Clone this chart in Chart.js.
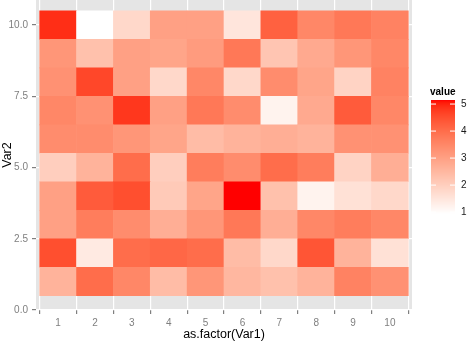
<!DOCTYPE html>
<html>
<head>
<meta charset="utf-8">
<script src="https://cdn.jsdelivr.net/npm/chart.js@4"></script>
<style>
  html, body { margin: 0; padding: 0; background: #fff; }
  #wrap { width: 474px; height: 350px; }
</style>
</head>
<body>
<div id="wrap"><canvas id="heat"></canvas></div>
<script>
const var1 = ['1', '2', '3', '4', '5', '6', '7', '8', '9', '10'];
const var2 = [1, 2, 3, 4, 5, 6, 7, 8, 9, 10];
// one row per Var2 value, columns follow var1
const value = [
  [2.6, 4.0, 3.5, 2.4, 3.2, 2.5, 2.3, 2.6, 3.6, 3.3],
  [4.5, 1.4, 4.0, 4.1, 4.0, 2.4, 1.8, 4.4, 2.6, 1.6],
  [3.0, 3.7, 3.4, 2.7, 3.2, 3.8, 2.7, 3.5, 3.7, 3.5],
  [3.0, 4.3, 4.5, 2.1, 2.9, 5.15, 2.3, 1.2, 1.6, 1.8],
  [2.0, 2.6, 4.0, 2.0, 3.7, 3.4, 4.0, 3.7, 1.9, 2.7],
  [3.4, 3.4, 3.2, 2.9, 2.4, 2.6, 2.7, 2.6, 3.3, 3.3],
  [3.5, 3.3, 4.8, 3.0, 3.8, 3.4, 1.2, 2.8, 4.3, 3.5],
  [3.3, 4.6, 3.0, 1.8, 3.5, 1.8, 3.4, 2.9, 1.9, 3.6],
  [3.2, 2.3, 3.0, 2.9, 3.1, 3.8, 2.2, 2.8, 3.2, 3.5],
  [4.9, 0.93, 1.8, 3.0, 3.0, 1.5, 4.2, 3.5, 3.8, 3.6]
];
const yTicks = [0, 2.5, 5, 7.5, 10];
const legendTicks = [1, 2, 3, 4, 5];

const all = value.flat();
const vMin = Math.min(...all);
const vMax = Math.max(...all);

// white -> red, interpolated in CIELAB
function toLin(c) { c /= 255; return c <= 0.04045 ? c / 12.92 : Math.pow((c + 0.055) / 1.055, 2.4); }
function fromLin(c) { c = c <= 0.0031308 ? 12.92 * c : 1.055 * Math.pow(c, 1 / 2.4) - 0.055; return Math.round(Math.max(0, Math.min(1, c)) * 255); }
const WX = 0.95047, WY = 1, WZ = 1.08883;
function rgbToLab(r, g, b) {
  r = toLin(r); g = toLin(g); b = toLin(b);
  const X = (0.4124 * r + 0.3576 * g + 0.1805 * b) / WX;
  const Y = (0.2126 * r + 0.7152 * g + 0.0722 * b) / WY;
  const Z = (0.0193 * r + 0.1192 * g + 0.9505 * b) / WZ;
  const f = t => t > 0.008856 ? Math.cbrt(t) : 7.787 * t + 16 / 116;
  const fx = f(X), fy = f(Y), fz = f(Z);
  return [116 * fy - 16, 500 * (fx - fy), 200 * (fy - fz)];
}
function labToRgb(L, a, b) {
  const fy = (L + 16) / 116, fx = fy + a / 500, fz = fy - b / 200;
  const inv = t => t * t * t > 0.008856 ? t * t * t : (t - 16 / 116) / 7.787;
  const X = inv(fx) * WX, Y = inv(fy) * WY, Z = inv(fz) * WZ;
  const r = 3.2406 * X - 1.5372 * Y - 0.4986 * Z;
  const g = -0.9689 * X + 1.8758 * Y + 0.0415 * Z;
  const bb = 0.0557 * X - 0.2040 * Y + 1.0570 * Z;
  return 'rgb(' + fromLin(r) + ',' + fromLin(g) + ',' + fromLin(bb) + ')';
}
const low = rgbToLab(255, 255, 255);
const high = rgbToLab(255, 0, 0);
function fill(v) {
  const t = (v - vMin) / (vMax - vMin);
  return labToRgb(low[0] + (high[0] - low[0]) * t, low[1] + (high[1] - low[1]) * t, low[2] + (high[2] - low[2]) * t);
}

const datasets = var2.map((y, r) => ({
  label: String(y),
  data: value[r].map((v, c) => ({ x: c + 1, y: [y - 0.5, y + 0.5] })),
  backgroundColor: value[r].map(fill),
  borderWidth: 0,
  barPercentage: 1,
  categoryPercentage: 1,
  grouped: false
}));

const panelBg = {
  id: 'panelBg',
  beforeDraw(chart) {
    const { ctx, chartArea: a } = chart;
    ctx.save();
    ctx.fillStyle = '#E5E5E5';
    ctx.fillRect(a.left, a.top, a.right - a.left, a.bottom - a.top);
    ctx.restore();
  }
};

// continuous colour bar on the right
const colourBar = {
  id: 'colourBar',
  afterDraw(chart) {
    const ctx = chart.ctx;
    const x0 = 431, w = 24, top = 100, h = 114;
    ctx.save();
    for (let i = 0; i < h; i++) {
      const v = vMax - (i + 0.5) / h * (vMax - vMin);
      ctx.fillStyle = fill(v);
      ctx.fillRect(x0, top + i, w, 1.2);
    }
    ctx.font = 'bold 10px "Liberation Sans", Arial, sans-serif';
    ctx.fillStyle = '#000';
    ctx.textBaseline = 'middle';
    ctx.textAlign = 'left';
    ctx.fillText('value', 430, 92);
    ctx.font = '10px "Liberation Sans", Arial, sans-serif';
    ctx.fillStyle = '#1a1a1a';
    legendTicks.forEach(t => {
      const y = top + (vMax - t) / (vMax - vMin) * h;
      ctx.strokeStyle = '#fff';
      ctx.lineWidth = 1;
      ctx.beginPath();
      ctx.moveTo(x0, y); ctx.lineTo(x0 + 5, y);
      ctx.moveTo(x0 + w - 5, y); ctx.lineTo(x0 + w, y);
      ctx.stroke();
      ctx.fillText(String(t), 461, y + 0.5);
    });
    ctx.restore();
  }
};

const tickFont = { family: '"Liberation Sans", Arial, sans-serif', size: 10 };
const titleFont = { family: '"Liberation Sans", Arial, sans-serif', size: 12.5 };

function noPad(s) {
  s.paddingTop = 0; s.paddingBottom = 0; s.paddingLeft = 0; s.paddingRight = 0;
}

new Chart(document.getElementById('heat'), {
  type: 'bar',
  data: { datasets: datasets },
  options: {
    responsive: true,
    maintainAspectRatio: false,
    animation: false,
    layout: { padding: { top: 0, right: 62, left: 0, bottom: 0 } },
    plugins: {
      legend: { display: false },
      tooltip: { enabled: false }
    },
    scales: {
      x: {
        type: 'linear',
        min: 0.4,
        max: 10.6,
        offset: false,
        afterBuildTicks: s => { s.ticks = var1.map((l, i) => ({ value: i + 1 })); },
        afterFit: s => { s.height = 40; noPad(s); },
        ticks: {
          color: '#7F7F7F',
          font: tickFont,
          padding: 3,
          maxRotation: 0,
          callback: v => var1[v - 1]
        },
        grid: { color: '#FFFFFF', lineWidth: 1.2, tickColor: '#7F7F7F', tickLength: 4 },
        border: { display: false },
        title: { display: true, text: 'as.factor(Var1)', color: '#000', font: titleFont, padding: { top: 0, bottom: 8 } }
      },
      y: {
        type: 'linear',
        min: 0,
        max: 10.88,
        afterBuildTicks: s => { s.ticks = yTicks.map(v => ({ value: v })); },
        afterFit: s => { s.width = 36; noPad(s); },
        ticks: {
          color: '#7F7F7F',
          font: tickFont,
          padding: 4,
          callback: v => v.toFixed(1)
        },
        grid: { color: '#FFFFFF', lineWidth: 1.2, tickColor: '#7F7F7F', tickLength: 4 },
        border: { display: false },
        title: { display: true, text: 'Var2', color: '#000', font: titleFont, padding: { top: 0, bottom: 0 } }
      }
    }
  },
  plugins: [panelBg, colourBar]
});
</script>
</body>
</html>
